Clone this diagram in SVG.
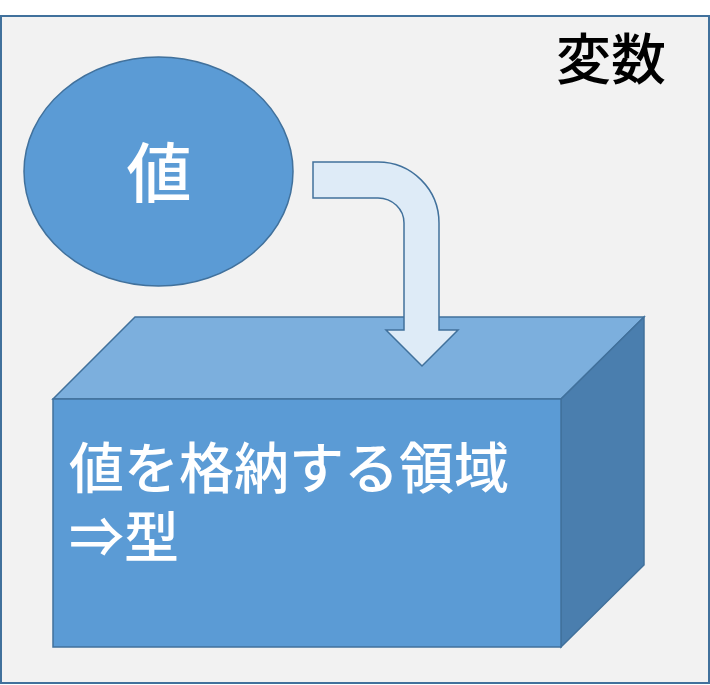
<svg xmlns="http://www.w3.org/2000/svg" width="710" height="685" viewBox="0 0 710 685">
<style>
.jp{font-family:"Noto Sans CJK JP","Noto Sans CJK SC",sans-serif;font-weight:500}
.w{fill:#FFFFFF}
.edge{stroke:#41719C;stroke-width:1.5;stroke-linejoin:miter}
</style>
<rect x="0" y="0" width="710" height="685" fill="#FFFFFF"/>
<g id="frame">
<rect x="1" y="16" width="708" height="667" fill="#F2F2F2" stroke="#41719C" stroke-width="2"/>
<text class="jp" x="556" y="79" font-size="55" fill="#000000">変数</text>
</g>
<g id="value">
<ellipse cx="158.5" cy="171.5" rx="134.5" ry="114.5" fill="#5B9BD5" class="edge"/>
<text class="jp w" x="159" y="197" font-size="65" text-anchor="middle">値</text>
</g>
<g id="storage">
<polygon points="53,399 135,317 644,317 561,399" fill="#7CAFDD" class="edge"/>
<polygon points="561,399 644,317 644,565 561,647" fill="#4A7EAE" class="edge"/>
<rect x="53" y="399" width="508" height="248" fill="#5B9BD5" class="edge"/>
<text class="jp w" font-size="55"><tspan x="69" y="488">値を格納する領域</tspan><tspan x="69" y="557">⇒型</tspan></text>
</g>
<g id="connectors">
<path d="M313,162 L378,162 A61,61 0 0 1 439,223 L439,330 L458,330 L422,366 L386,330 L404,330 L404,223 A26,25 0 0 0 378,198 L313,198 Z" fill="#DEEBF7" class="edge"/>
</g>
</svg>
